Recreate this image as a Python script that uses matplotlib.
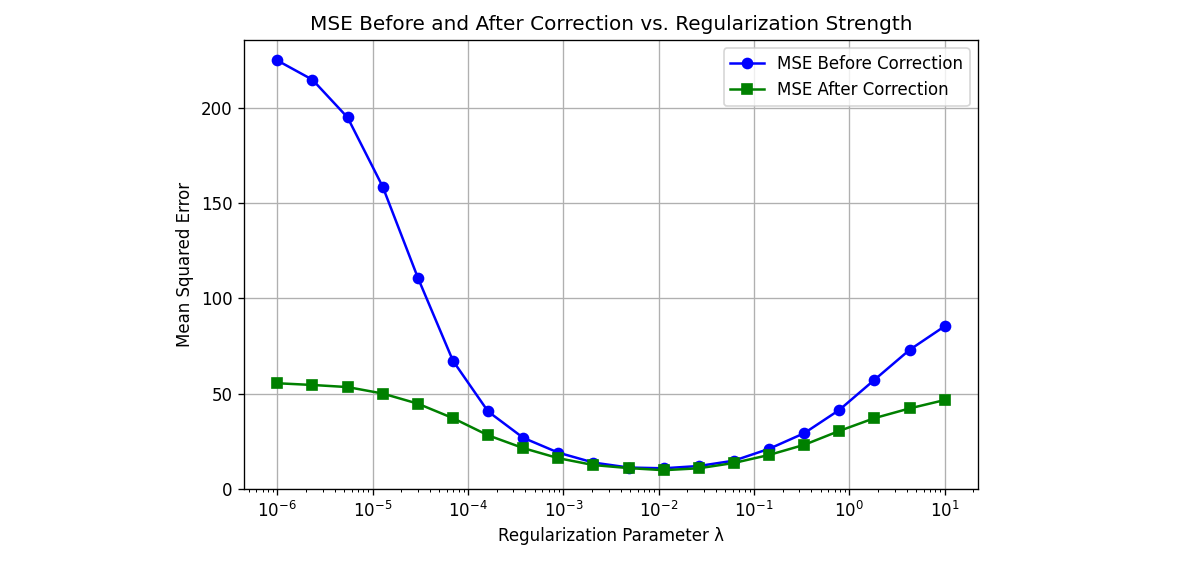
import numpy as np
import matplotlib
matplotlib.use('Agg')
import matplotlib.pyplot as plt

# valores de lambda (20 pontos em escala log)
lambdas = np.logspace(-6, 1, 20)

mse_antes = [224.7, 214.6, 194.8, 158.5, 110.8, 67.2, 40.6, 26.8, 19.0, 13.8,
             11.2, 10.8, 12.0, 14.8, 21.0, 29.2, 41.4, 57.2, 72.9, 85.3]
mse_depois = [55.4, 54.5, 53.4, 50.0, 44.7, 37.1, 28.1, 21.4, 16.1, 12.5,
              10.9, 9.8, 10.8, 13.6, 17.8, 23.1, 30.4, 37.1, 42.2, 46.6]

# dpi 120 -> tudo 1.2x maior, como na imagem de referencia
fig = plt.figure(figsize=(1203 / 120, 582 / 120), dpi=120)
ax = fig.add_subplot(111)
fig.subplots_adjust(left=0.2028, right=0.813, top=0.9313, bottom=0.160)

ax.plot(lambdas, mse_antes, 'b-o', label='MSE Before Correction')
ax.plot(lambdas, mse_depois, 'g-s', label='MSE After Correction')
ax.set_xscale('log')
ax.set_xlabel('Regularization Parameter λ')
ax.set_ylabel('Mean Squared Error')
ax.set_title('MSE Before and After Correction vs. Regularization Strength')
ax.set_ylim(bottom=0)
ax.grid(True)
ax.legend()

fig.savefig('out.png', dpi=120)
